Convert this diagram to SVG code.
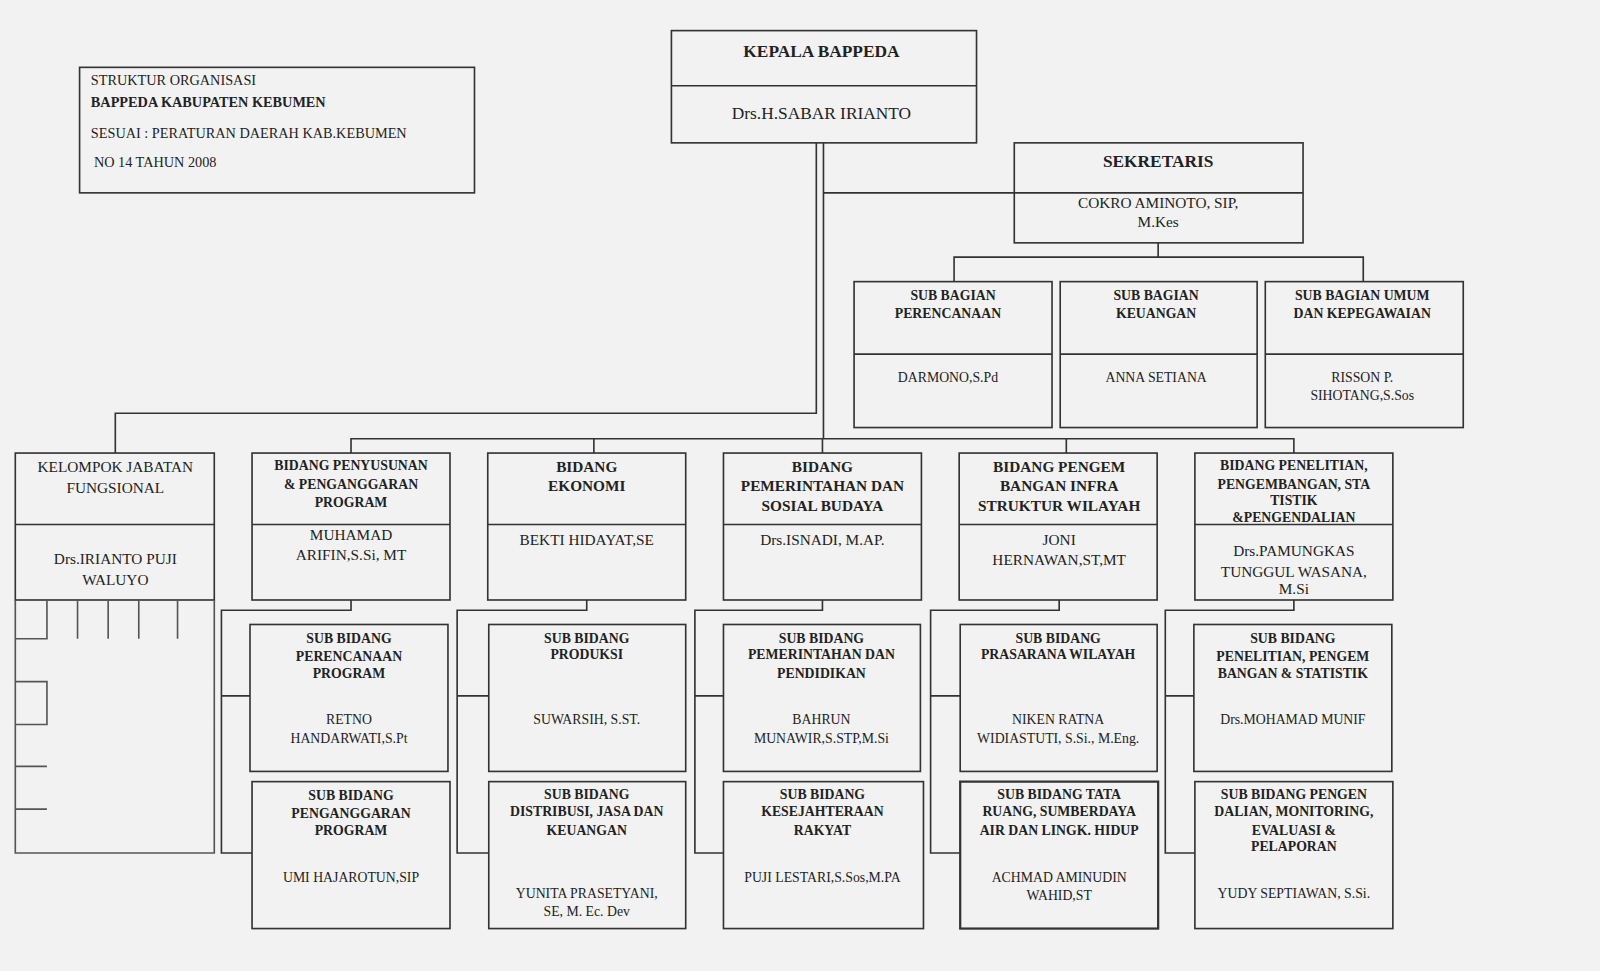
<svg xmlns="http://www.w3.org/2000/svg" width="1600" height="971" viewBox="0 0 1600 971">
<style>
rect.b{fill:none;stroke:#333;stroke-width:1.6}
line,path{stroke:#333;stroke-width:1.6;fill:none}
text{font-family:"Liberation Serif","Times New Roman",serif;fill:#222;text-anchor:middle}
.t{font-weight:bold;font-size:13.5px}
.n{font-size:13.5px}
.L{font-size:15px}
.LB{font-size:15px;font-weight:bold}
.H{font-size:17px;font-weight:bold}
.HN{font-size:17px}
</style>
<rect width="1600" height="971" fill="#f2f2f2"/>
<g transform="scale(1.0204)">
<g id="title">
<rect class="b" x="78" y="66" width="387" height="123"/>
<text class="n" x="89" y="83" style="text-anchor:start;font-size:14px">STRUKTUR ORGANISASI</text>
<text class="t" x="89" y="105" style="text-anchor:start;font-size:14px">BAPPEDA KABUPATEN KEBUMEN</text>
<text class="n" x="89" y="135" style="text-anchor:start;font-size:14px">SESUAI : PERATURAN DAERAH  KAB.KEBUMEN</text>
<text class="n" x="92" y="164" style="text-anchor:start;font-size:14px">NO 14 TAHUN 2008</text>
</g>
<g id="connectors">
<path d="M800 140V405H113V444"/>
<path d="M807 140V430"/>
<path d="M807 189H994"/>
<path d="M1135 238V252M935 276V252H1336V276"/>
<path d="M344 444V430H1268V444M582 430V444M806 430V444M1045 430V444"/>
<path d="M344 588V598H217V836H247M217 682H245"/>
<path d="M575 588V598H448V836H479M448 682H479"/>
<path d="M806 588V598H681V836H709M681 682H709"/>
<path d="M1038 588V598H912V836H941M912 682H941"/>
<path d="M1268 588V598H1142V836H1171M1142 682H1170"/>
</g>
<g id="kepala">
<rect class="b" x="658" y="30" width="299" height="110"/><line x1="658" y1="84" x2="957" y2="84"/>
<text class="H" x="805" y="56">KEPALA BAPPEDA</text>
<text class="HN" x="805" y="117">Drs.H.SABAR IRIANTO</text>
</g>
<g id="sekretaris">
<rect class="b" x="994" y="140" width="283" height="98"/><line x1="994" y1="189" x2="1277" y2="189"/>
<text class="H" x="1135" y="164">SEKRETARIS</text>
<text class="L" x="1135" y="204">COKRO AMINOTO, SIP,</text>
<text class="L" x="1135" y="222">M.Kes</text>
</g>
<g id="sb1"><rect class="b" x="837" y="276" width="194" height="143"/><line x1="837" y1="347" x2="1031" y2="347"/>
<text class="t" x="934" y="294">SUB BAGIAN</text><text class="t" x="929" y="312">PERENCANAAN</text><text class="n" x="929" y="374">DARMONO,S.Pd</text></g>
<g id="sb2"><rect class="b" x="1039" y="276" width="193" height="143"/><line x1="1039" y1="347" x2="1232" y2="347"/>
<text class="t" x="1133" y="294">SUB BAGIAN</text><text class="t" x="1133" y="312">KEUANGAN</text><text class="n" x="1133" y="374">ANNA SETIANA</text></g>
<g id="sb3"><rect class="b" x="1240" y="276" width="194" height="143"/><line x1="1240" y1="347" x2="1434" y2="347"/>
<text class="t" x="1335" y="294">SUB BAGIAN UMUM</text><text class="t" x="1335" y="312">DAN KEPEGAWAIAN</text><text class="n" x="1335" y="374">RISSON P.</text><text class="n" x="1335" y="392">SIHOTANG,S.Sos</text></g>
<g id="kjf">
<rect class="b" x="15" y="444" width="195" height="144"/><line x1="15" y1="514" x2="210" y2="514"/>
<text class="L" x="113" y="463">KELOMPOK JABATAN</text><text class="L" x="113" y="483">FUNGSIONAL</text>
<text class="L" x="113" y="553">Drs.IRIANTO PUJI</text><text class="L" x="113" y="573">WALUYO</text>
<path d="M15 588V836H210V588M46 588V626H15M76 588V626M106 588V626M136 588V626M174 588V626M15 668H46V710H15M15 751H46M15 793H46" style="stroke:#555"/>
</g>
<g id="b1"><rect class="b" x="247" y="444" width="194" height="144"/><line x1="247" y1="514" x2="441" y2="514"/>
<text class="t" x="344" y="461">BIDANG PENYUSUNAN</text><text class="t" x="344" y="479">&amp; PENGANGGARAN</text><text class="t" x="344" y="497">PROGRAM</text>
<text class="L" x="344" y="529">MUHAMAD</text><text class="L" x="344" y="549">ARIFIN,S.Si, MT</text></g>
<g id="b2"><rect class="b" x="478" y="444" width="194" height="144"/><line x1="478" y1="514" x2="672" y2="514"/>
<text class="LB" x="575" y="463">BIDANG</text><text class="LB" x="575" y="481">EKONOMI</text>
<text class="L" x="575" y="534">BEKTI HIDAYAT,SE</text></g>
<g id="b3"><rect class="b" x="709" y="444" width="194" height="144"/><line x1="709" y1="514" x2="903" y2="514"/>
<text class="LB" x="806" y="463">BIDANG</text><text class="LB" x="806" y="481">PEMERINTAHAN DAN</text><text class="LB" x="806" y="501">SOSIAL BUDAYA</text>
<text class="L" x="806" y="534">Drs.ISNADI, M.AP.</text></g>
<g id="b4"><rect class="b" x="940" y="444" width="194" height="144"/><line x1="940" y1="514" x2="1134" y2="514"/>
<text class="LB" x="1038" y="463">BIDANG PENGEM</text><text class="LB" x="1038" y="481">BANGAN INFRA</text><text class="LB" x="1038" y="501">STRUKTUR WILAYAH</text>
<text class="L" x="1038" y="534">JONI</text><text class="L" x="1038" y="554">HERNAWAN,ST,MT</text></g>
<g id="b5"><rect class="b" x="1171" y="444" width="194" height="144"/><line x1="1171" y1="514" x2="1365" y2="514"/>
<text class="t" x="1268" y="461">BIDANG PENELITIAN,</text><text class="t" x="1268" y="479">PENGEMBANGAN, STA</text><text class="t" x="1268" y="495">TISTIK</text><text class="t" x="1268" y="512">&amp;PENGENDALIAN</text>
<text class="L" x="1268" y="545">Drs.PAMUNGKAS</text><text class="L" x="1268" y="565">TUNGGUL WASANA,</text><text class="L" x="1268" y="582">M.Si</text></g>
<g id="s1a"><rect class="b" x="245" y="612" width="194" height="144"/>
<text class="t" x="342" y="630">SUB BIDANG</text><text class="t" x="342" y="648">PERENCANAAN</text><text class="t" x="342" y="664">PROGRAM</text>
<text class="n" x="342" y="710">RETNO</text><text class="n" x="342" y="728">HANDARWATI,S.Pt</text></g>
<g id="s1b"><rect class="b" x="247" y="766" width="194" height="144"/>
<text class="t" x="344" y="784">SUB BIDANG</text><text class="t" x="344" y="802">PENGANGGARAN</text><text class="t" x="344" y="818">PROGRAM</text>
<text class="n" x="344" y="864">UMI HAJAROTUN,SIP</text></g>
<g id="s2a"><rect class="b" x="479" y="612" width="193" height="144"/>
<text class="t" x="575" y="630">SUB BIDANG</text><text class="t" x="575" y="646">PRODUKSI</text>
<text class="n" x="575" y="710">SUWARSIH, S.ST.</text></g>
<g id="s2b"><rect class="b" x="479" y="766" width="193" height="144"/>
<text class="t" x="575" y="783">SUB BIDANG</text><text class="t" x="575" y="800">DISTRIBUSI, JASA DAN</text><text class="t" x="575" y="818">KEUANGAN</text>
<text class="n" x="575" y="880">YUNITA PRASETYANI,</text><text class="n" x="575" y="898">SE, M. Ec. Dev</text></g>
<g id="s3a"><rect class="b" x="709" y="612" width="193" height="144"/>
<text class="t" x="805" y="630">SUB BIDANG</text><text class="t" x="805" y="646">PEMERINTAHAN DAN</text><text class="t" x="805" y="664">PENDIDIKAN</text>
<text class="n" x="805" y="710">BAHRUN</text><text class="n" x="805" y="728">MUNAWIR,S.STP,M.Si</text></g>
<g id="s3b"><rect class="b" x="709" y="766" width="196" height="144"/>
<text class="t" x="806" y="783">SUB BIDANG</text><text class="t" x="806" y="800">KESEJAHTERAAN</text><text class="t" x="806" y="818">RAKYAT</text>
<text class="n" x="806" y="864">PUJI LESTARI,S.Sos,M.PA</text></g>
<g id="s4a"><rect class="b" x="941" y="612" width="193" height="144"/>
<text class="t" x="1037" y="630">SUB BIDANG</text><text class="t" x="1037" y="646">PRASARANA WILAYAH</text>
<text class="n" x="1037" y="710">NIKEN RATNA</text><text class="n" x="1037" y="728">WIDIASTUTI, S.Si., M.Eng.</text></g>
<g id="s4b"><rect class="b" x="941" y="766" width="194" height="144" style="stroke-width:2.2"/>
<text class="t" x="1038" y="783">SUB BIDANG TATA</text><text class="t" x="1038" y="800">RUANG, SUMBERDAYA</text><text class="t" x="1038" y="818">AIR DAN LINGK. HIDUP</text>
<text class="n" x="1038" y="864">ACHMAD AMINUDIN</text><text class="n" x="1038" y="882">WAHID,ST</text></g>
<g id="s5a"><rect class="b" x="1170" y="612" width="194" height="144"/>
<text class="t" x="1267" y="630">SUB BIDANG</text><text class="t" x="1267" y="648">PENELITIAN, PENGEM</text><text class="t" x="1267" y="664">BANGAN &amp; STATISTIK</text>
<text class="n" x="1267" y="710">Drs.MOHAMAD MUNIF</text></g>
<g id="s5b"><rect class="b" x="1171" y="766" width="194" height="144"/>
<text class="t" x="1268" y="783">SUB BIDANG PENGEN</text><text class="t" x="1268" y="800">DALIAN, MONITORING,</text><text class="t" x="1268" y="818">EVALUASI &amp;</text><text class="t" x="1268" y="834">PELAPORAN</text>
<text class="n" x="1268" y="880">YUDY SEPTIAWAN, S.Si.</text></g>
</g>
</svg>
